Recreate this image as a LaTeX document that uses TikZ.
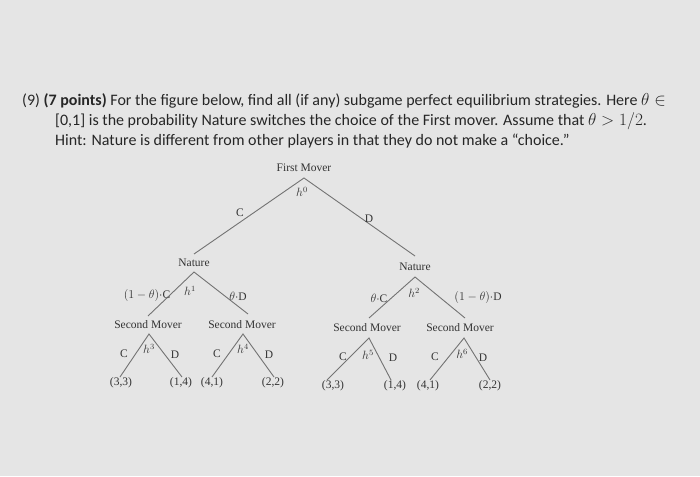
\documentclass[tikz,border=0pt]{standalone}
\usepackage{fontspec}
\newfontfamily\hdr{Carlito}
\setmainfont{Liberation Serif}
\begin{document}
\begin{tikzpicture}[x=1pt,y=-1pt,
  br/.style={draw=black!55,line width=0.9pt},
  tx/.style={text=black!80,font=\fontsize{11.5}{12}\selectfont,inner sep=0pt},
  hd/.style={text=black!85,font=\hdr\fontsize{16}{17}\selectfont,inner sep=0pt,anchor=base west}]
\useasboundingbox[fill=black!10] (0,0) rectangle (700,476);
\node[hd] (l1) at (22,105) {(9) \textbf{(7 points)} For the figure below, find all (if any) subgame perfect equilibrium strategies. Here $\theta\in$};
\node[hd] (l2) at (55,125) {[0,1] is the probability Nature switches the choice of the First mover. Assume that $\theta>1/2$.};
\node[hd] (l3) at (55,145) {Hint: Nature is different from other players in that they do not make a “choice.”};
% vertices
\coordinate (r) at (304,178);
\coordinate (nl) at (194,254); \coordinate (nlv) at (194,272);
\coordinate (nr) at (415,256); \coordinate (nrv) at (415,277);
\coordinate (s1) at (148,316); \coordinate (s1v) at (149,334);
\coordinate (s2) at (248,314); \coordinate (s2v) at (243,334);
\coordinate (s3) at (369,318); \coordinate (s3v) at (369,338);
\coordinate (s4) at (465,318); \coordinate (s4v) at (464,338);
\coordinate (a1) at (120,377); \coordinate (a2) at (182,377);
\coordinate (a3) at (212,377); \coordinate (a4) at (274,377);
\coordinate (a5) at (327,380); \coordinate (a6) at (391,380);
\coordinate (a7) at (430,380); \coordinate (a8) at (490,380);
\draw[br] (nl) -- (r) -- (nr);
\draw[br] (s1) -- (nlv) -- (s2);
\draw[br] (s3) -- (nrv) -- (s4);
\draw[br] (a1) -- (s1v) -- (a2);
\draw[br] (a3) -- (s2v) -- (a4);
\draw[br] (a5) -- (s3v) -- (a6);
\draw[br] (a7) -- (s4v) -- (a8);
% labels
\node[tx] (fm) at (304,168) {First Mover};
\node[tx] (h0) at (302,192) {$h^0$};
\node[tx] (c0) at (240,213) {C};
\node[tx] (d0) at (369,219) {D};
\node[tx] (nal) at (194,263) {Nature};
\node[tx] (nar) at (415,267) {Nature};
\node[tx] (h1) at (190,291) {$h^1$};
\node[tx] (p1) at (147,295) {$(1-\theta){\cdot}\mathrm{C}$};
\node[tx] (p2) at (238,296) {$\theta{\cdot}\mathrm{D}$};
\node[tx] (h2) at (414,293) {$h^2$};
\node[tx] (p3) at (379,298) {$\theta{\cdot}\mathrm{C}$};
\node[tx] (p4) at (478,297) {$(1-\theta){\cdot}\mathrm{D}$};
\node[tx] (m1) at (148,325) {Second Mover};
\node[tx] (m2) at (242,325) {Second Mover};
\node[tx] (m3) at (367,328) {Second Mover};
\node[tx] (m4) at (460,328) {Second Mover};
\node[tx] (h3) at (149,349) {$h^3$};
\node[tx] (h4) at (243,349) {$h^4$};
\node[tx] (h5) at (368,355) {$h^5$};
\node[tx] (h6) at (462,354) {$h^6$};
\node[tx] at (124,354) {C}; \node[tx] at (175,355) {D};
\node[tx] at (217,354) {C}; \node[tx] at (269,355) {D};
\node[tx] at (343,357) {C}; \node[tx] at (393,358) {D};
\node[tx] at (435,357) {C}; \node[tx] at (483,358) {D};
\node[tx] at (121,383) {(3,3)}; \node[tx] at (181,383) {(1,4)};
\node[tx] at (212,383) {(4,1)}; \node[tx] at (273,383) {(2,2)};
\node[tx] at (333,386) {(3,3)}; \node[tx] at (395,386) {(1,4)};
\node[tx] at (428,386) {(4,1)}; \node[tx] at (490,386) {(2,2)};
\end{tikzpicture}
\end{document}
